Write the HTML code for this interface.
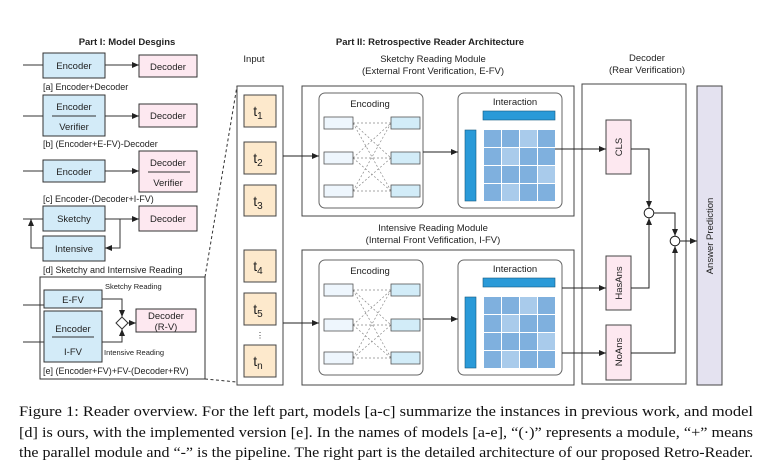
<!DOCTYPE html>
<html><head><meta charset="utf-8"><style>
html,body{margin:0;padding:0;background:#fff;}
svg{display:block;}
text{font-family:"Liberation Sans",sans-serif;fill:#222;}
.cap{font-family:"Liberation Serif",serif;font-size:15px;fill:#111;}
</style></head><body>
<svg width="770" height="474" viewBox="0 0 770 474" xmlns="http://www.w3.org/2000/svg">
<defs>
<marker id="ar" markerWidth="8" markerHeight="8" refX="7" refY="4" orient="auto" markerUnits="userSpaceOnUse">
<path d="M0,1 L7,4 L0,7 Z" fill="#222"/></marker>
<g id="mod">
<rect x="319" y="93" width="104" height="115" rx="6" fill="#fff" stroke="#666" stroke-width="1"/>
<g stroke="#888" stroke-width="0.7" stroke-dasharray="2,2" fill="none">
<path d="M353,123 L391,123 M353,123 L391,158 M353,123 L391,191 M353,158 L391,123 M353,158 L391,158 M353,158 L391,191 M353,191 L391,123 M353,191 L391,158 M353,191 L391,191"/>
</g>
<g fill="#eef6fd" stroke="#555" stroke-width="0.8">
<rect x="324" y="117" width="29" height="12"/><rect x="324" y="152" width="29" height="12"/><rect x="324" y="185" width="29" height="12"/>
</g>
<g fill="#d2ecf8" stroke="#555" stroke-width="0.8">
<rect x="391" y="117" width="29" height="12"/><rect x="391" y="152" width="29" height="12"/><rect x="391" y="185" width="29" height="12"/>
</g>
<rect x="458" y="93" width="104" height="115" rx="6" fill="#fff" stroke="#666" stroke-width="1"/>
<rect x="483" y="111" width="72" height="9" fill="#2a9ad8" stroke="#145a80" stroke-width="0.6"/>
<rect x="465" y="130" width="11" height="71" fill="#2a9ad8" stroke="#145a80" stroke-width="0.6"/>
<g>
<rect x="484" y="130" width="17" height="17" fill="#7fb0de"/><rect x="502" y="130" width="17" height="17" fill="#7fb0de"/><rect x="520" y="130" width="17" height="17" fill="#a9cbeb"/><rect x="538" y="130" width="17" height="17" fill="#7fb0de"/>
<rect x="484" y="148" width="17" height="17" fill="#7fb0de"/><rect x="502" y="148" width="17" height="17" fill="#a9cbeb"/><rect x="520" y="148" width="17" height="17" fill="#7fb0de"/><rect x="538" y="148" width="17" height="17" fill="#7fb0de"/>
<rect x="484" y="166" width="17" height="17" fill="#7fb0de"/><rect x="502" y="166" width="17" height="17" fill="#7fb0de"/><rect x="520" y="166" width="17" height="17" fill="#7fb0de"/><rect x="538" y="166" width="17" height="17" fill="#a9cbeb"/>
<rect x="484" y="184" width="17" height="17" fill="#7fb0de"/><rect x="502" y="184" width="17" height="17" fill="#a9cbeb"/><rect x="520" y="184" width="17" height="17" fill="#7fb0de"/><rect x="538" y="184" width="17" height="17" fill="#7fb0de"/>
</g>
<line x1="283" y1="156" x2="319" y2="156" stroke="#222" stroke-width="1" marker-end="url(#ar)"/>
<line x1="423" y1="152" x2="458" y2="152" stroke="#222" stroke-width="1" marker-end="url(#ar)"/>
</g>
</defs>

<!-- Part I -->
<text x="127" y="45" font-size="9.5" font-weight="bold" text-anchor="middle">Part I: Model Desgins</text>
<g stroke="#333" stroke-width="1">
<rect x="43" y="53" width="62" height="25" fill="#d3ebf8"/>
<rect x="139" y="55" width="58" height="22" fill="#fde8f0"/>
<rect x="43" y="95" width="62" height="41" fill="#d3ebf8"/>
<rect x="139" y="104" width="58" height="23" fill="#fde8f0"/>
<rect x="43" y="160" width="62" height="22" fill="#d3ebf8"/>
<rect x="139" y="151" width="58" height="41" fill="#fde8f0"/>
<rect x="43" y="206" width="62" height="25" fill="#d3ebf8"/>
<rect x="139" y="206" width="58" height="25" fill="#fde8f0"/>
<rect x="43" y="236" width="62" height="25" fill="#d3ebf8"/>
<rect x="40" y="277" width="165" height="102" fill="none"/>
<rect x="44" y="290" width="58" height="18" fill="#d3ebf8"/>
<rect x="44" y="311" width="58" height="51" fill="#d3ebf8"/>
<rect x="136" y="309" width="60" height="23" fill="#fde8f0"/>
<line x1="52" y1="116" x2="96" y2="116"/>
<line x1="148" y1="172" x2="190" y2="172"/>
<line x1="52" y1="337" x2="94" y2="337"/>
<line x1="23" y1="65" x2="43" y2="65"/>
<line x1="105" y1="65" x2="139" y2="65" marker-end="url(#ar)"/>
<line x1="23" y1="116" x2="43" y2="116"/>
<line x1="105" y1="116" x2="139" y2="116" marker-end="url(#ar)"/>
<line x1="23" y1="171" x2="43" y2="171"/>
<line x1="105" y1="171" x2="139" y2="171" marker-end="url(#ar)"/>
<line x1="23" y1="219" x2="43" y2="219"/>
<line x1="105" y1="219" x2="139" y2="219" marker-end="url(#ar)"/>
<polyline points="120,219 120,248 105,248" fill="none" marker-end="url(#ar)"/>
<polyline points="43,248 31,248 31,219" fill="none" marker-end="url(#ar)"/>
<line x1="23" y1="305" x2="44" y2="305"/>
<line x1="23" y1="342" x2="44" y2="342"/>
<polyline points="102,299 122,299 122,317" fill="none" marker-end="url(#ar)"/>
<polyline points="102,342 122,342 122,329" fill="none" marker-end="url(#ar)"/>
<polygon points="122,317 128,323 122,329 116,323" fill="#fff"/>
<line x1="128" y1="323" x2="136" y2="323" marker-end="url(#ar)"/>
</g>
<g font-size="9.5" text-anchor="middle">
<text x="74" y="69">Encoder</text><text x="168" y="70">Decoder</text>
<text x="74" y="110">Encoder</text><text x="74" y="130">Verifier</text><text x="168" y="119">Decoder</text>
<text x="74" y="175">Encoder</text><text x="168" y="166">Decoder</text><text x="168" y="186">Verifier</text>
<text x="74" y="222">Sketchy</text><text x="168" y="222">Decoder</text>
<text x="74" y="252">Intensive</text>
<text x="73" y="303">E-FV</text><text x="73" y="332">Encoder</text><text x="73" y="355">I-FV</text>
<text x="166" y="319">Decoder</text><text x="166" y="330">(R-V)</text>
</g>
<g font-size="9">
<text x="43" y="90">[a] Encoder+Decoder</text>
<text x="43" y="147">[b] (Encoder+E-FV)-Decoder</text>
<text x="43" y="202">[c] Encoder-(Decoder+I-FV)</text>
<text x="43" y="273">[d] Sketchy and Internsive Reading</text>
<text x="43" y="374">[e] (Encoder+FV)+FV-(Decoder+RV)</text>
</g>
<text x="105" y="289" font-size="7.5">Sketchy  Reading</text>
<text x="104" y="355" font-size="7.5">Intensive Reading</text>
<g stroke="#333" stroke-width="1" stroke-dasharray="3,2.5" fill="none">
<line x1="205" y1="277" x2="237" y2="86"/>
<line x1="205" y1="379" x2="237" y2="382"/>
</g>

<!-- Part II -->
<text x="430" y="45" font-size="9.5" font-weight="bold" text-anchor="middle">Part II: Retrospective Reader Architecture</text>
<text x="254" y="62" font-size="9.5" text-anchor="middle">Input</text>
<text x="433" y="62" font-size="9.5" text-anchor="middle">Sketchy Reading Module</text>
<text x="433" y="74" font-size="9.5" text-anchor="middle">(External Front Verification, E-FV)</text>
<text x="433" y="231" font-size="9.5" text-anchor="middle">Intensive Reading Module</text>
<text x="433" y="243" font-size="9.5" text-anchor="middle">(Internal Front Vefification, I-FV)</text>
<text x="647" y="61" font-size="9.5" text-anchor="middle">Decoder</text>
<text x="647" y="73" font-size="9.5" text-anchor="middle">(Rear Verification)</text>

<rect x="237" y="86" width="46" height="299" fill="none" stroke="#444"/>
<g fill="#fde9cc" stroke="#444" stroke-width="1">
<rect x="244" y="95" width="32" height="32"/><rect x="244" y="142" width="32" height="32"/><rect x="244" y="185" width="32" height="31"/>
<rect x="244" y="250" width="32" height="32"/><rect x="244" y="293" width="32" height="32"/><rect x="244" y="345" width="32" height="32"/>
</g>
<g font-size="14" text-anchor="middle">
<text x="258" y="116">t<tspan font-size="10" dy="3">1</tspan></text>
<text x="258" y="163">t<tspan font-size="10" dy="3">2</tspan></text>
<text x="258" y="206">t<tspan font-size="10" dy="3">3</tspan></text>
<text x="258" y="271">t<tspan font-size="10" dy="3">4</tspan></text>
<text x="258" y="314">t<tspan font-size="10" dy="3">5</tspan></text>
<text x="258" y="366">t<tspan font-size="10" dy="3">n</tspan></text>
</g>
<text x="260" y="338" font-size="8" text-anchor="middle">⋮</text>

<rect x="302" y="86" width="272" height="130" fill="none" stroke="#444"/>
<rect x="302" y="250" width="272" height="135" fill="none" stroke="#444"/>
<use href="#mod"/>
<use href="#mod" transform="translate(0,167)"/>
<text x="370" y="107" font-size="9.5" text-anchor="middle">Encoding</text>
<text x="515" y="105" font-size="9.5" text-anchor="middle">Interaction</text>
<text x="370" y="274" font-size="9.5" text-anchor="middle">Encoding</text>
<text x="515" y="272" font-size="9.5" text-anchor="middle">Interaction</text>

<!-- Decoder -->
<rect x="582" y="84" width="104" height="300" fill="none" stroke="#444"/>
<rect x="697" y="86" width="25" height="299" fill="#e4e2f0" stroke="#444"/>
<g fill="#fde8f0" stroke="#444">
<rect x="606" y="120" width="25" height="54"/>
<rect x="606" y="256" width="25" height="54"/>
<rect x="606" y="325" width="25" height="55"/>
</g>
<g stroke="#222" stroke-width="1" fill="none">
<line x1="555" y1="149" x2="606" y2="149" marker-end="url(#ar)"/>
<line x1="562" y1="288" x2="606" y2="288" marker-end="url(#ar)"/>
<line x1="562" y1="353" x2="606" y2="353" marker-end="url(#ar)"/>
<polyline points="631,149 649,149 649,208" marker-end="url(#ar)"/>
<polyline points="631,288 649,288 649,218" marker-end="url(#ar)"/>
<polyline points="654,213 675,213 675,236" marker-end="url(#ar)"/>
<polyline points="631,353 675,353 675,246" marker-end="url(#ar)"/>
<line x1="680" y1="241" x2="697" y2="241" marker-end="url(#ar)"/>
<circle cx="649" cy="213" r="4.8" fill="#fff"/>
<circle cx="675" cy="241" r="4.8" fill="#fff"/>
</g>
<g font-size="9.5" text-anchor="middle">
<text transform="translate(622,147) rotate(-90)">CLS</text>
<text transform="translate(622,283) rotate(-90)">HasAns</text>
<text transform="translate(622,352) rotate(-90)">NoAns</text>
<text transform="translate(713,236) rotate(-90)">Answer Prediction</text>
</g>

<!-- Caption -->
<text class="cap" x="19" y="416" textLength="734" lengthAdjust="spacingAndGlyphs">Figure 1:  Reader overview. For the left part, models [a-c] summarize the instances in previous work, and model</text>
<text class="cap" x="19" y="437" textLength="734" lengthAdjust="spacingAndGlyphs">[d] is ours, with the implemented version [e]. In the names of models [a-e], “(·)” represents a module, “+” means</text>
<text class="cap" x="19" y="457" textLength="734" lengthAdjust="spacingAndGlyphs">the parallel module and “-” is the pipeline. The right part is the detailed architecture of our proposed Retro-Reader.</text>
</svg>
</body></html>
